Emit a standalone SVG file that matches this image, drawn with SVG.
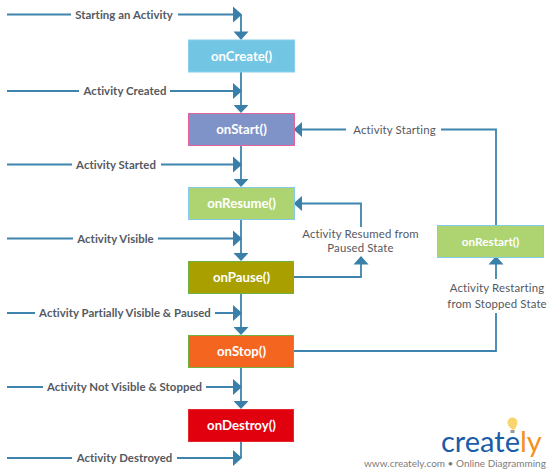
<svg xmlns="http://www.w3.org/2000/svg" width="552" height="476" viewBox="0 0 552 476">
<defs>
<style>
text{font-family:Lato,"Open Sans","Liberation Sans",sans-serif}
.n{font-size:13.200px;font-weight:700;fill:#fff;text-anchor:middle}
.l{font-size:11.400px;font-weight:700;fill:#55595f;text-anchor:middle;letter-spacing:.05px}
.r{font-size:11.400px;fill:#55595f;text-anchor:middle;letter-spacing:.15px}
.c{fill:none;stroke:#3f84ae;stroke-width:1.800}
.a{fill:#3a7fa8}
</style>
</defs>
<rect width="552" height="476" fill="#fff"/>
<g id="connectors">
<path class="c" d="M7 14.500H71M178 14.500H236M241 14.500V33"/>
<path class="c" d="M7 91H79M170 91H236M241 72V106"/>
<path class="c" d="M7 164.500H72M161 164.500H236M241 145V180"/>
<path class="c" d="M7 238.500H73M158 238.500H236M241 219V254"/>
<path class="c" d="M7 313H35M215 313H236M241 293V328"/>
<path class="c" d="M7 387H43M206 387H236M241 367V402"/>
<path class="c" d="M7 458H72M177 458H236M241 442V458"/>
<path class="c" d="M294 129.500H346M441 129.500H496V225"/>
<path class="c" d="M300 203.500H361V227"/>
<path class="c" d="M294 277H361V263"/>
<path class="c" d="M294 351H496V313"/>
<path class="c" d="M496 257V279"/>
<g class="a">
<path d="M233 6.500L242 14.500L233 22.500Z"/>
<path d="M233 83L242 91L233 99Z"/>
<path d="M233 156.500L242 164.500L233 172.500Z"/>
<path d="M233 230.500L242 238.500L233 246.500Z"/>
<path d="M233 305L242 313L233 321Z"/>
<path d="M233 379L242 387L233 395Z"/>
<path d="M233 450L242 458L233 466Z"/>
<path d="M233.500 31.500H248.500L241 40Z"/>
<path d="M233.500 105H248.500L241 113Z"/>
<path d="M233.500 179H248.500L241 187Z"/>
<path d="M233.500 253H248.500L241 261Z"/>
<path d="M233.500 327H248.500L241 335Z"/>
<path d="M233.500 401H248.500L241 409Z"/>
<path d="M293.500 129.500L302 122V137Z"/>
<path d="M293.500 203.500L302 196V211Z"/>
<path d="M353.500 264.500L361 256L368.500 264.500Z"/>
<path d="M488.500 264.500L496 256L503.500 264.500Z"/>
</g>
</g>
<g id="onCreate"><rect x="188.500" y="40" width="106" height="32" fill="#72c5e3" stroke="#86d0ea"/><text class="n" x="241.500" y="60.500">onCreate()</text></g>
<g id="onStart"><rect x="188.500" y="113.500" width="106" height="32" fill="#8093c9" stroke="#e5629d"/><text class="n" x="241.500" y="134">onStart()</text></g>
<g id="onResume"><rect x="188.500" y="187.500" width="106" height="32" fill="#aed472" stroke="#83cbe6"/><text class="n" x="241.500" y="208">onResume()</text></g>
<g id="onPause"><rect x="188.500" y="261.500" width="105" height="32" fill="#a9a000" stroke="#70b13f"/><text class="n" x="241.500" y="282">onPause()</text></g>
<g id="onStop"><rect x="188.500" y="335.500" width="105" height="32" fill="#f4661f" stroke="#70b13f"/><text class="n" x="241.500" y="356">onStop()</text></g>
<g id="onDestroy"><rect x="188.500" y="409.500" width="105" height="32" fill="#e0000e" stroke="#e8262e"/><text class="n" x="241.500" y="430">onDestroy()</text></g>
<g id="onRestart"><rect x="437.500" y="225.500" width="106" height="32" fill="#aed472" stroke="#83cbe6"/><text class="n" x="490.500" y="245.500" style="font-size:11.800px">onRestart()</text></g>
<g id="labels">
<text class="l" x="124" y="18.500">Starting an Activity</text>
<text class="l" x="125" y="95">Activity Created</text>
<text class="l" x="116" y="168.500">Activity Started</text>
<text class="l" x="115.500" y="242.500">Activity Visible</text>
<text class="l" x="125" y="317">Activity Partially Visible &amp; Paused</text>
<text class="l" x="124.500" y="391">Activity Not Visible &amp; Stopped</text>
<text class="l" x="124.500" y="462">Activity Destroyed</text>
<text class="r" x="394.500" y="133.500">Activity Starting</text>
<text class="r" x="360.500" y="238">Activity Resumed from</text>
<text class="r" x="360.500" y="252">Paused State</text>
<text class="r" x="497" y="292">Activity Restarting</text>
<text class="r" x="497" y="308">from Stopped State</text>
</g>
<g id="logo">
<path d="M512 429.500C508 426 507.500 424 507.500 422.500A5 5 0 0 1 517.500 422.500C517.500 424 516.500 426 514.500 429.500Z" fill="#f8d56c"/>
<rect x="510.500" y="430" width="4" height="3" fill="#9a9a9a"/>
<text x="441" y="451.500" style="font-size:29px;font-weight:400" fill="#1a5ca8">create<tspan fill="#f3921e">ly</tspan></text>
<text x="364" y="467" style="font-size:10px" fill="#7d7d7d">www.creately.com • Online Diagramming</text>
</g>
</svg>
